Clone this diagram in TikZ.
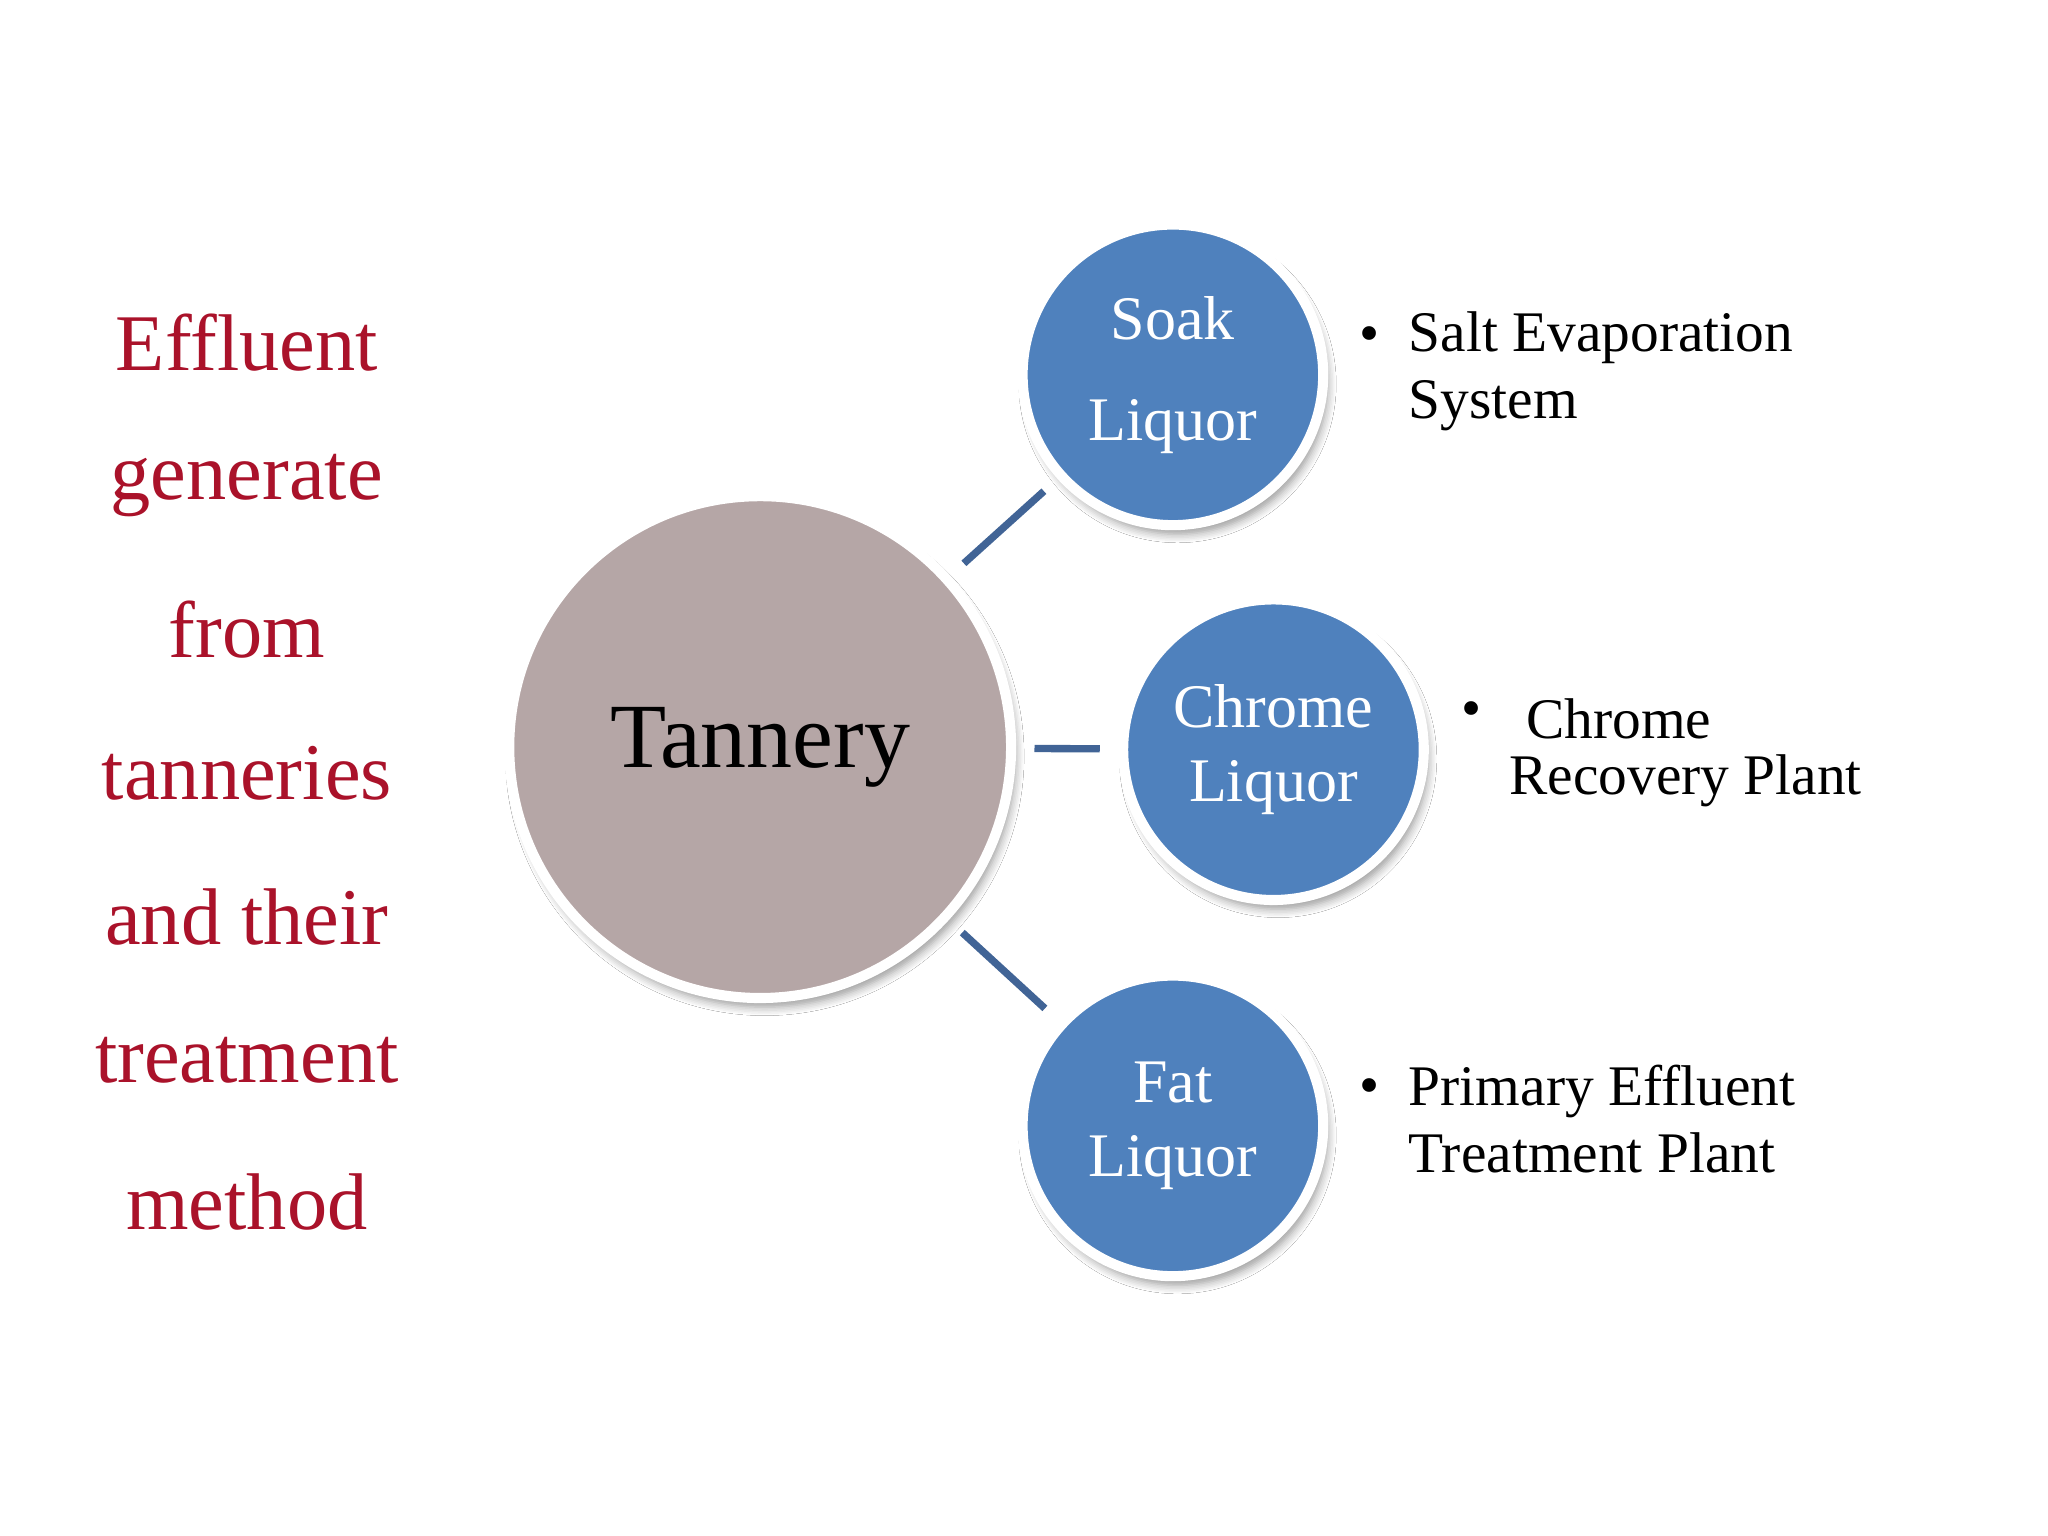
\documentclass[tikz,border=0pt]{standalone}
\usepackage{fontspec}
\setmainfont{Liberation Serif}
\usetikzlibrary{shadows.blur}
\definecolor{eff}{RGB}{170,18,42}
\definecolor{blu}{RGB}{79,129,189}
\definecolor{tan}{RGB}{181,166,166}
\definecolor{lnk}{RGB}{65,100,150}
\begin{document}
\begin{tikzpicture}[x=0.01cm,y=-0.01cm,
  big/.style={circle,fill=tan,draw=white,line width=2.2pt,minimum size=384\pgflinewidth,inner sep=0pt,blur shadow={shadow xshift=1pt,shadow yshift=-2pt,shadow blur steps=6}},
  sm/.style={circle,fill=blu,draw=white,line width=2.2pt,minimum size=0.46cm*5,inner sep=0pt,text=white,font=\fontsize{13.5}{16}\selectfont,align=center,blur shadow={shadow xshift=1pt,shadow yshift=-2pt,shadow blur steps=6}},
  lk/.style={draw=lnk,line width=1.6pt},
  lt/.style={text=eff,font=\fontsize{17.5}{20}\selectfont},
  bt/.style={font=\fontsize{12.5}{14.5}\selectfont,anchor=west,align=left,inner sep=0pt}]
\useasboundingbox (0,0) rectangle (1568,1176);
\fill[white] (0,0) rectangle (1568,1176);
\node[big,minimum size=3.84cm,font=\fontsize{20}{24}\selectfont] (t) at (582,572) {Tannery};
\node[sm] (s) at (898,287) {Soak\\[6pt]Liquor};
\node[sm] (c) at (975,574) {Chrome\\Liquor};
\node[sm] (f) at (898,862) {Fat\\Liquor};
\draw[lk,shorten <=4pt,shorten >=4pt] (t) -- (s);
\draw[lk,shorten <=4pt,shorten >=4pt] (t) -- (c);
\draw[lk,shorten <=4pt,shorten >=4pt] (t) -- (f);
\foreach \w/\y [count=\i] in {Effluent/262,generate/372,from/482,tanneries/592,and their/702,treatment/812,method/920}
  \node[lt] (l\i) at (189,\y) {\w};
\node[bt] (b1) at (1040,260) {•};
\node[bt,anchor=north west] (s1) at (1078,238) {Salt Evaporation\\System};
\node[bt] (b2) at (1118,547) {•};
\node[bt,anchor=west] (s2a) at (1168,550) {Chrome};
\node[bt,anchor=west] (s2b) at (1155,598) {Recovery Plant};
\node[bt] (b3) at (1040,836) {•};
\node[bt,anchor=north west] (s3) at (1078,815) {Primary Effluent\\Treatment Plant};
\end{tikzpicture}
\end{document}
